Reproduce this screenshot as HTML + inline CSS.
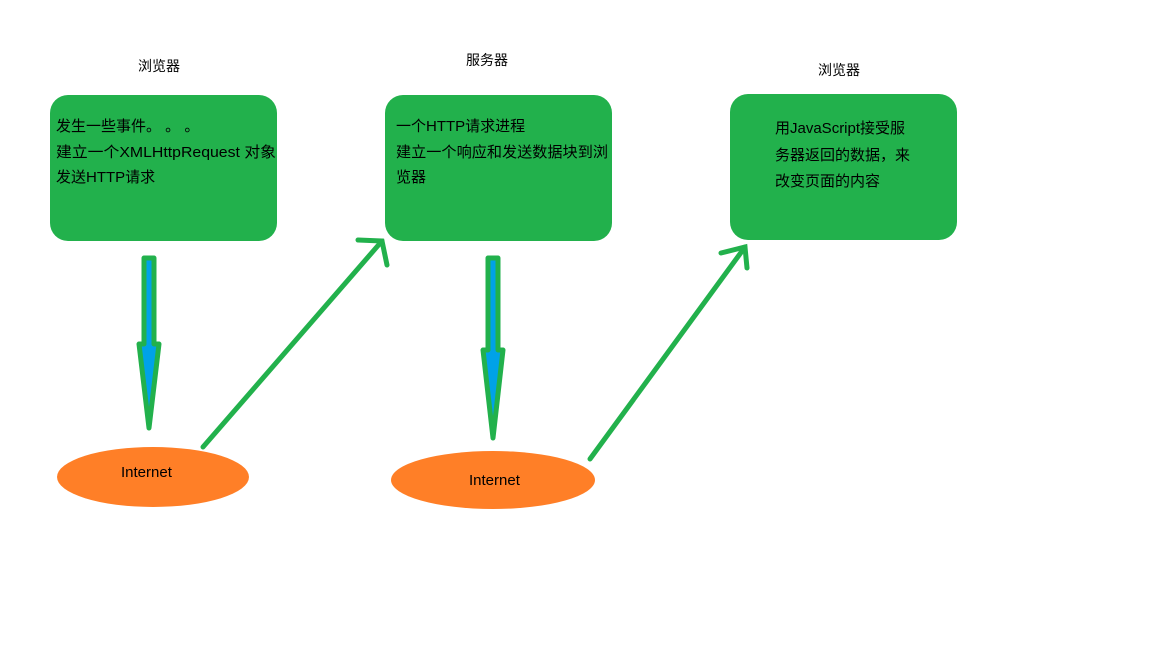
<!DOCTYPE html><html><head><meta charset="utf-8"><style>body{margin:0;background:#fff}svg{display:block}text{font-family:"Liberation Sans","Noto Sans CJK SC",sans-serif;font-size:15px;fill:#000}</style></head><body>
<svg width="1152" height="648" viewBox="0 0 1152 648">
<text x="138" y="71" style="font-size:14px">浏览器</text>
<text x="466" y="65" style="font-size:14px">服务器</text>
<text x="818" y="75" style="font-size:14px">浏览器</text>
<rect x="50" y="95" width="227" height="146" rx="18" fill="#22b14c"/>
<rect x="385" y="95" width="227" height="146" rx="18" fill="#22b14c"/>
<rect x="730" y="94" width="227" height="146" rx="18" fill="#22b14c"/>
<text x="56" y="131">发生一些事件。 。 。</text>
<text x="56" y="157" textLength="220" lengthAdjust="spacingAndGlyphs">建立一个XMLHttpRequest 对象</text>
<text x="56" y="182">发送HTTP请求</text>
<text x="396" y="131">一个HTTP请求进程</text>
<text x="396" y="157" textLength="212" lengthAdjust="spacingAndGlyphs">建立一个响应和发送数据块到浏</text>
<text x="396" y="182">览器</text>
<text x="775" y="133">用JavaScript接受服</text>
<text x="775" y="160">务器返回的数据，来</text>
<text x="775" y="186">改变页面的内容</text>
<g stroke="#22b14c" stroke-width="5" stroke-linejoin="round" stroke-linecap="round" fill="#00a2e8">
<path d="M144 258 H154 V344 H159 L149 428 L139 344 H144 Z"/>
<path d="M488 258 H498 V350 H503 L493 438 L483 350 H488 Z"/>
</g>
<ellipse cx="153" cy="477" rx="96" ry="30" fill="#ff7f27"/>
<ellipse cx="493" cy="480" rx="102" ry="29" fill="#ff7f27"/>
<text x="121" y="477">Internet</text>
<text x="469" y="485">Internet</text>
<g stroke="#22b14c" stroke-width="5" stroke-linecap="round" fill="none">
<path d="M203 447 L382 241"/><path d="M358 240 L382 241 L387 265"/>
<path d="M590 459 L745 247"/><path d="M721 253 L745 247 L747 268"/>
</g>
</svg></body></html>
